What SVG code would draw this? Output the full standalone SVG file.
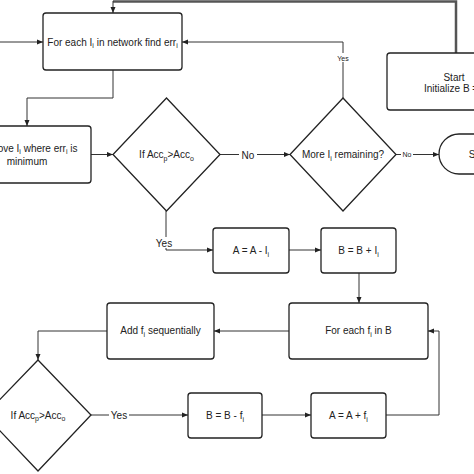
<svg xmlns="http://www.w3.org/2000/svg" width="474" height="474" viewBox="0 0 474 474">
<defs>
<marker id="arr" markerWidth="6" markerHeight="6" refX="6" refY="3" orient="auto" markerUnits="userSpaceOnUse">
<path d="M0,0.5 L6,3 L0,5.5 z" fill="#222"/>
</marker>
<style>
.box{fill:#fff;stroke:#222;stroke-width:1.3}
.ln{fill:none;stroke:#333;stroke-width:1}
.t{font-family:"Liberation Sans",Arial,sans-serif;font-size:10px;fill:#222;text-anchor:middle}
.s{font-size:7px}
.lb{font-family:"Liberation Sans",Arial,sans-serif;font-size:10px;fill:#222;text-anchor:middle}
.sm{font-size:7px}
</style>
</defs>
<rect width="474" height="474" fill="#fff"/>
<g id="connectors">
<polyline class="ln" points="113,1.5 456,1.5 456,53" style="stroke:#555;stroke-width:2.5"/>
<line class="ln" x1="113" y1="1" x2="113" y2="13" marker-end="url(#arr)"/>
<line class="ln" x1="0" y1="42" x2="43" y2="42" marker-end="url(#arr)"/>
<polyline class="ln" points="113,70 113,98 27,98 27,126" marker-end="url(#arr)"/>
<line class="ln" x1="91" y1="154.5" x2="113" y2="154.5" marker-end="url(#arr)"/>
<line class="ln" x1="220" y1="154.5" x2="290" y2="154.5" marker-end="url(#arr)"/>
<line class="ln" x1="396" y1="154.5" x2="439" y2="154.5" marker-end="url(#arr)"/>
<polyline class="ln" points="343,98 343,42 182,42" marker-end="url(#arr)"/>
<polyline class="ln" points="166,211 166,250 213,250" marker-end="url(#arr)"/>
<line class="ln" x1="289" y1="250" x2="321" y2="250" marker-end="url(#arr)"/>
<line class="ln" x1="359" y1="273" x2="359" y2="303" marker-end="url(#arr)"/>
<line class="ln" x1="289" y1="331" x2="214" y2="331" marker-end="url(#arr)"/>
<polyline class="ln" points="107,331 38,331 38,360" marker-end="url(#arr)"/>
<line class="ln" x1="91" y1="415" x2="188" y2="415" marker-end="url(#arr)"/>
<line class="ln" x1="262" y1="415" x2="311" y2="415" marker-end="url(#arr)"/>
<polyline class="ln" points="386,415 439,415 439,331 428,331" marker-end="url(#arr)"/>
<rect x="239" y="149" width="18" height="11" fill="#fff"/>
<text class="lb" x="248" y="158.5">No</text>
<rect x="401" y="150" width="12" height="9" fill="#fff"/>
<text class="lb sm" x="407" y="157">No</text>
<rect x="336" y="53" width="14" height="9" fill="#fff"/>
<text class="lb sm" x="343" y="60.5">Yes</text>
<rect x="155" y="237" width="19" height="11" fill="#fff"/>
<text class="lb" x="164" y="246.5">Yes</text>
<rect x="109" y="409" width="20" height="11" fill="#fff"/>
<text class="lb" x="119" y="418.5">Yes</text>
</g>
<g id="start">
<rect class="box" x="387" y="53" width="134" height="57" rx="3"/>
<text class="t" x="454" y="80.5">Start</text>
<text class="t" x="424" y="92" style="text-anchor:start">Initialize B =</text>
</g>
<g id="foreach-li">
<rect class="box" x="43" y="13" width="139" height="57" rx="3"/>
<text class="t" x="112.5" y="45.5">For each I<tspan class="s" dy="2.5">i</tspan><tspan dy="-2.5"> in network find err</tspan><tspan class="s" dy="2.5">i</tspan></text>
</g>
<g id="remove">
<rect class="box" x="-37" y="126" width="128" height="57" rx="3"/>
<text class="t" x="27" y="151.5">Remove I<tspan class="s" dy="2.5">i</tspan><tspan dy="-2.5"> where err</tspan><tspan class="s" dy="2.5">i</tspan><tspan dy="-2.5"> is</tspan></text>
<text class="t" x="27" y="164.5">minimum</text>
</g>
<g id="decision1">
<polygon class="box" points="166.5,98 220,154.5 166.5,211 113,154.5"/>
<text class="t" x="166.5" y="158">If Acc<tspan class="s" dy="2.5">p</tspan><tspan dy="-2.5">&gt;Acc</tspan><tspan class="s" dy="2.5">o</tspan></text>
</g>
<g id="decision2">
<polygon class="box" points="343,98 396,154.5 343,211 290,154.5"/>
<text class="t" x="343" y="158">More I<tspan class="s" dy="2.5">i</tspan><tspan dy="-2.5"> remaining?</tspan></text>
</g>
<g id="stop">
<rect class="box" x="439" y="134" width="80" height="40" rx="20"/>
<text class="t" x="479" y="158">Stop</text>
</g>
<g id="a-minus">
<rect class="box" x="213" y="228" width="76" height="45" rx="3"/>
<text class="t" x="251" y="254">A = A - I<tspan class="s" dy="2.5">i</tspan></text>
</g>
<g id="b-plus">
<rect class="box" x="321" y="228" width="75" height="45" rx="3"/>
<text class="t" x="358.5" y="254">B = B + I<tspan class="s" dy="2.5">i</tspan></text>
</g>
<g id="foreach-fi">
<rect class="box" x="289" y="303" width="139" height="56" rx="3"/>
<text class="t" x="358.5" y="334">For each f<tspan class="s" dy="2.5">i</tspan><tspan dy="-2.5"> in B</tspan></text>
</g>
<g id="add-fi">
<rect class="box" x="107" y="303" width="107" height="56" rx="3"/>
<text class="t" x="160.5" y="334">Add f<tspan class="s" dy="2.5">i</tspan><tspan dy="-2.5"> sequentially</tspan></text>
</g>
<g id="decision3">
<polygon class="box" points="38,360 91,415 38,471 -15,415"/>
<text class="t" x="38" y="418.5">If Acc<tspan class="s" dy="2.5">p</tspan><tspan dy="-2.5">&gt;Acc</tspan><tspan class="s" dy="2.5">o</tspan></text>
</g>
<g id="b-minus">
<rect class="box" x="188" y="393" width="74" height="45" rx="3"/>
<text class="t" x="225" y="419">B = B - f<tspan class="s" dy="2.5">i</tspan></text>
</g>
<g id="a-plus">
<rect class="box" x="311" y="393" width="75" height="45" rx="3"/>
<text class="t" x="348.5" y="419">A = A + f<tspan class="s" dy="2.5">i</tspan></text>
</g>
</svg>
